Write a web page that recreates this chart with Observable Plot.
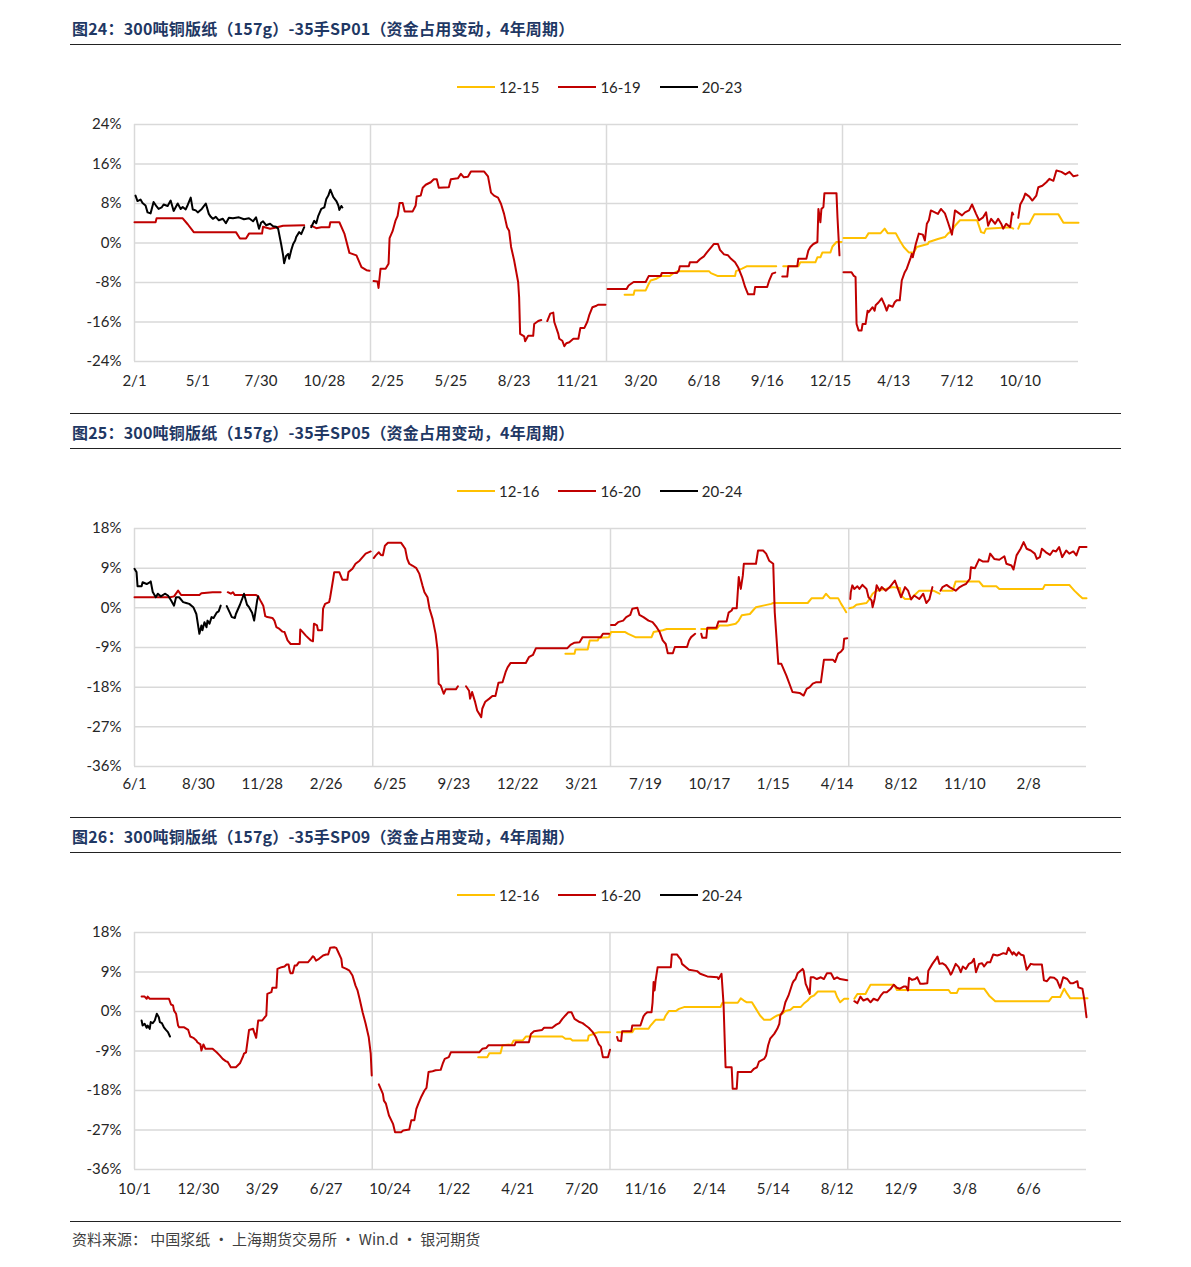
<!DOCTYPE html>
<html><head><meta charset="utf-8">
<script src="https://cdn.jsdelivr.net/npm/d3@7"></script>
<script src="https://cdn.jsdelivr.net/npm/@observablehq/plot@0.6"></script>
<style>
body{margin:0;background:#fff;overflow:hidden;}
#page{position:relative;width:1191px;height:1267px;font-family:"Noto Sans CJK SC","Noto Sans",sans-serif;}
.title{position:absolute;left:72px;font-weight:700;font-size:16px;letter-spacing:0.2px;color:#1f3864;line-height:20px;white-space:nowrap;}
.rule{position:absolute;left:70px;width:1051px;height:0;border-top:1.5px solid #222;}
.legend{position:absolute;left:457px;display:flex;align-items:center;font-family:Lato,"Noto Sans",sans-serif;font-size:15px;color:#262626;height:20px;}
.legend .sw{width:38px;height:2px;margin-right:4px;}
.legend .lab{margin-right:19px;}
.chart{position:absolute;left:0;}
.footer{position:absolute;left:72px;top:1229px;font-size:15px;color:#404040;line-height:20px;white-space:nowrap;}
</style></head>
<body><div id="page"></div>
<script>
// ---------- tick labels ----------
const labels1 = ["2/1","5/1","7/30","10/28","2/25","5/25","8/23","11/21","3/20","6/18","9/16","12/15","4/13","7/12","10/10"];
const labels2 = ["6/1","8/30","11/28","2/26","6/25","9/23","12/22","3/21","7/19","10/17","1/15","4/14","8/12","11/10","2/8"];
const labels3 = ["10/1","12/30","3/29","6/27","10/24","1/22","4/21","7/20","11/16","2/14","5/14","8/12","12/9","3/8","6/6"];
const yTicks1 = [-24,-16,-8,0,8,16,24];
const yTicks23 = [-36,-27,-18,-9,0,9,18];
const names1 = ["12-15","16-19","20-23"];
const names23 = ["12-16","16-20","20-24"];
// trading-day index of each year boundary, and days between labels
const bounds1 = [235,470,705];
const bounds2 = [235,469.5,704.5];
const bounds3 = [234.5,469,703.5];
const tickStep = 63;

// ---------- chart 1 (SP01) : [trading day, %] ; null = gap ----------
const c1Yellow = [
[488,-10.5],[497,-10.5],[498,-9.6],[509,-9.6],[512,-8.3],[514,-7.6],[519,-7.3],[524,-6.7],[533,-6.7],[536,-6.2],[541,-5.7],[572,-5.7],[574,-6.1],[581,-6.7],[598,-6.7],[599,-5.7],[605,-5.2],[610,-4.7],[639,-4.7],null,
[646,-4.7],[661,-4.7],[663,-3.9],[678,-3.9],[680,-2.9],[683,-2.9],[685,-1.9],[693,-1.9],[695,-0.7],[699,0.2],[704,0.2],null,
[706,1.0],[728,1.0],[731,2.0],[743,2.0],[747,2.9],[750,2.0],[758,2.0],[762,0.5],[766,-0.8],[771,-1.9],[776,-1.9],[779,-0.8],[790,-0.2],[791,0.2],[800,0.8],[807,1.2],[810,1.9],[814,2.5],[817,3.5],[822,4.6],[839,4.6],[843,2.2],[846,2.0],[848,2.9],[872,3.2],[875,2.9],null,
[880,2.9],[882,3.9],[891,3.9],[896,5.8],[920,5.8],[925,4.1],[940,4.1]
];
const c1Red = [
[0,4.2],[21,4.2],[22,5.0],[48,5.0],[53,3.8],[59,2.2],[101,2.2],[105,0.9],[111,0.9],[114,1.9],[127,1.9],[128,3.3],[135,2.9],[140,3.1],[148,3.5],[169,3.6],null,
[176,3.5],[181,3.0],[186,3.2],[194,3.2],[195,4.2],[204,4.2],[209,1.9],[214,-2.0],[221,-2.5],[226,-4.9],[231,-5.5],[234,-5.6],null,
[238,-7.7],[242,-7.8],[243,-9.1],[245,-5.2],[250,-5.2],[253,-4.2],[254,1.0],[257,2.4],[260,4.6],[262,5.5],[264,8.1],[267,8.1],[269,6.4],[277,6.4],[280,7.6],[281,9.4],[285,9.6],[287,11.2],[290,11.8],[295,12.3],[298,12.9],[301,12.9],[303,11.2],[313,11.3],[315,12.9],[322,13.1],[325,14.0],[328,13.3],[332,13.4],[335,14.5],[348,14.5],[352,13.5],[355,10.2],[358,9.6],[362,9.2],[365,7.9],[368,5.9],[371,3.2],[373,2.5],[375,-0.8],[378,-3.5],[382,-7.9],[383,-11.0],[384,-18.4],[388,-18.9],[389,-19.9],[392,-18.8],[397,-18.8],[398,-16.4],[402,-15.8],[405,-15.6],null,
[411,-15.8],[414,-14.3],[417,-14.1],[418,-16.0],[422,-18.4],[423,-19.4],[426,-19.8],[428,-20.9],[430,-20.3],[433,-20.1],[437,-19.4],[442,-19.4],[444,-17.2],[448,-17.2],[451,-15.9],[453,-14.5],[456,-13.0],[460,-12.7],[462,-12.5],[469,-12.5],null,
[471,-9.3],[490,-9.3],[492,-8.6],[497,-7.9],[509,-7.9],[512,-6.7],[524,-6.7],[525,-6.1],[540,-6.1],[542,-5.6],[543,-4.7],[552,-4.7],[553,-3.9],[560,-3.9],[563,-3.3],[567,-2.7],[570,-1.9],[575,-0.7],[577,-0.2],[581,-0.2],[583,-1.4],[587,-2.3],[591,-2.5],[594,-3.2],[598,-3.9],[601,-4.9],[605,-6.9],[608,-8.9],[611,-10.4],[617,-10.4],[618,-8.9],[630,-8.9],[632,-7.6],[635,-6.2],[638,-6.0],null,
[645,-6.8],[650,-6.8],[651,-4.7],[660,-4.7],[661,-3.2],[669,-3.2],[671,-1.5],[673,-0.8],[676,-0.2],[680,0.2],[681,6.9],[683,4.2],[684,6.9],[686,7.3],[687,10.1],[699,10.1],[700,5.2],[702,-2.5],null,
[706,-5.9],[714,-5.9],[716,-6.6],[718,-6.9],[719,-16.4],[721,-17.7],[724,-17.7],[725,-16.4],[728,-16.4],[730,-13.7],[731,-14.0],[735,-13.0],[737,-13.7],[738,-12.6],[741,-12.0],[744,-11.2],[747,-12.6],[749,-13.7],[751,-12.6],[755,-12.9],[757,-12.0],[759,-11.6],[762,-11.6],[764,-7.6],[767,-5.9],[769,-5.2],[773,-2.9],[774,-2.2],[775,-2.9],[778,-0.2],[781,1.9],[785,1.7],[787,0.5],[789,3.9],[791,4.6],[793,6.6],[797,6.2],[800,5.9],[803,6.9],[807,6.0],[810,4.2],[814,1.7],[817,6.6],[824,5.6],[827,6.2],[831,6.6],[834,7.8],[838,5.9],[841,4.6],[845,5.2],[848,6.2],[850,3.5],[853,4.9],[857,3.9],[860,4.9],[863,3.9],[865,2.9],[868,3.9],[872,3.2],[874,6.2],[875,5.8],null,
[880,5.1],[882,7.8],[885,8.9],[887,10.0],[891,9.4],[894,8.6],[898,9.6],[900,11.3],[904,11.6],[908,12.3],[911,13.0],[915,12.6],[918,14.7],[923,14.4],[927,13.9],[931,14.4],[935,13.5],[939,13.7]
];
const c1Black = [
[1,9.6],[3,8.5],[6,8.8],[8,8.1],[11,7.6],[13,6.2],[16,6.0],[19,8.3],[22,7.4],[24,6.9],[27,7.2],[29,7.8],[33,7.5],[36,8.6],[39,6.5],[43,8.0],[46,6.9],[48,7.3],[51,6.8],[53,7.7],[56,9.2],[58,6.8],[61,6.6],[63,6.2],[67,6.9],[71,8.0],[74,5.9],[76,5.3],[78,4.9],[81,5.3],[84,4.6],[88,4.9],[91,4.0],[94,5.1],[98,5.0],[104,5.2],[109,4.8],[114,5.0],[118,4.4],[121,5.2],[124,2.9],[126,4.1],[128,4.4],[131,3.6],[135,3.9],[138,3.4],[141,3.3],[143,2.9],[146,-0.2],[148,-2.5],[149,-4.1],[151,-2.6],[153,-2.2],[154,-3.2],[156,-1.5],[158,-0.2],[160,0.5],[161,1.2],[164,2.2],[166,1.8],[169,3.2],null,
[176,3.2],[179,4.5],[181,4.0],[183,5.5],[186,6.9],[189,7.2],[191,8.9],[193,9.6],[195,10.8],[198,9.3],[201,8.5],[203,7.6],[204,6.7],[206,7.5],[207,7.2]
];

// ---------- chart 2 (SP05) ----------
const c2Yellow = [
[425,-10.4],[434,-10.4],[435,-9.45],[447,-9.45],[449,-7.4],[457,-7.4],[458,-6.8],[468,-6.65],
[470,-5.5],[484,-5.5],[487,-5.9],[494,-6.65],[510,-6.65],[512,-5.5],[521,-5.1],[525,-4.8],[553,-4.8],null,
[559,-4.8],[574,-4.8],[577,-4.0],[585,-4.0],[593,-3.6],[596,-2.9],[599,-1.7],[607,-1.4],[610,-0.6],[613,0.15],[620,0.5],[628,0.9],[630,1.1],[664,1.1],[668,2.2],[679,2.2],[682,3.2],[686,2.2],[694,2.2],[697,0.9],[700,-0.2],[702,-1.0],null,
[705,-0.1],[709,0.15],[712,0.7],[722,1.1],[725,2.0],[728,3.2],[732,3.9],[741,4.3],[748,4.7],[755,4.5],[756,2.8],[760,2.0],[766,2.0],[769,2.8],[774,3.9],[788,3.9],[794,3.2],null,
[797,3.9],[807,3.9],[810,6.0],[833,6.0],[837,4.9],[850,4.9],[853,4.3],[896,4.3],[898,5.2],[922,5.2],[927,3.9],[932,2.8],[935,2.2],[939,2.2]
];
const c2Red = [
[0,2.4],[35,2.4],[39,2.6],[43,3.9],[46,2.9],[64,2.9],[66,3.3],[77,3.55],[85,3.55],null,
[92,3.55],[95,3.2],[97,3.55],[99,2.9],[120,2.9],[122,2.6],[125,1.3],[127,0.5],[129,-1.9],[131,-2.1],[136,-2.3],[138,-2.9],[140,-4.4],[143,-4.8],[146,-5.4],[148,-5.5],[151,-7.4],[154,-8.2],[163,-8.2],[163.5,-4.9],[166,-5.5],[169,-6.3],[174,-7.4],[176,-7.6],[177,-3.6],[180,-4.0],[181,-5.1],[185,-5.1],[186,-0.2],[188,0.9],[192,1.3],[193,2.4],[196,6.6],[197,8.1],[202,8.1],[205,6.4],[210,6.4],[211,8.1],[215,8.85],[218,10.0],[222,10.7],[225,11.5],[228,12.3],[233,12.8],null,
[236,11.3],[238,11.9],[241,12.6],[243,12.0],[245,11.9],[247,14.1],[250,14.75],[263,14.75],[267,13.4],[269,11.1],[271,10.0],[274,9.6],[278,9.0],[281,7.7],[284,5.1],[286,3.55],[289,2.4],[291,-0.2],[294,-2.5],[297,-5.9],[299,-9.7],[300,-17.2],[302,-17.6],[305,-19.5],[307,-18.5],[317,-18.5],[319,-17.8],null,
[327,-17.8],[330,-18.8],[331,-20.6],[333,-19.1],[336,-21.4],[338,-23.3],[342,-24.8],[343,-22.9],[346,-21.3],[350,-20.6],[353,-20.0],[356,-20.0],[359,-17.0],[363,-16.9],[366,-14.6],[368,-13.5],[371,-12.5],[386,-12.5],[389,-11.2],[393,-10.7],[396,-9.15],[427,-9.15],[430,-8.4],[434,-7.9],[439,-7.8],[440,-7.4],[442,-6.65],[460,-6.65],[462,-5.9],[468,-5.9],null,
[470,-3.9],[474,-3.9],[477,-3.25],[482,-2.9],[485,-2.1],[489,-1.6],[491,-0.2],[496,0.0],[498,-1.6],[502,-2.1],[507,-2.9],[511,-3.25],[515,-4.4],[518,-5.5],[521,-7.4],[524,-8.2],[526,-10.3],[531,-10.3],[533,-8.9],[545,-8.9],[547,-7.4],[549,-6.65],[553,-5.9],null,
[559,-5.9],[560,-6.8],[564,-6.8],[565,-4.5],[574,-4.5],[576,-3.1],[584,-3.1],[586,-1.1],[589,-0.6],[590,-0.1],[594,-0.1],[596,7.0],[598,4.3],[600,7.3],[601,10.0],[613,10.0],[615,13.0],[620,13.0],[623,12.3],[626,10.7],[630,10.0],[631.5,-1.0],[635,-12.7],[638,-12.7],[643,-15.4],[649,-19.1],[656,-19.3],[660,-19.9],[663,-18.4],[666,-18.0],[669,-17.2],[672,-16.9],[677,-16.9],[680,-11.8],[689,-11.8],[691,-12.3],[694,-10.4],[697,-9.9],[699,-9.3],[700,-7.0],[703,-6.9],null,
[706,2.0],[706.5,3.55],[708,5.1],[710,4.3],[713,4.9],[715,4.3],[718,5.2],[722,4.3],[724,2.4],[727,1.7],[728,0.15],[730,2.0],[732,5.1],[735,3.9],[737,4.7],[741,3.9],[745,4.7],[750,6.2],[753,4.3],[756,2.4],[760,4.7],[763,3.9],[766,1.9],[769,2.8],[774,2.0],[778,3.2],[781,1.1],[784,1.9],[787,4.7],null,
[795,3.9],[797,4.7],[801,5.2],[804,4.7],[807,4.3],[810,3.9],[814,4.7],[817,5.1],[820,5.4],[824,6.6],[825,9.2],[829,9.0],[833,11.0],[837,10.5],[842,10.5],[844,12.3],[848,11.1],[853,10.9],[858,11.7],[860,10.0],[865,9.6],[867,8.7],[870,11.9],[874,13.4],[877,14.9],[880,13.4],[884,13.0],[888,12.3],[890,11.1],[893,11.5],[895,13.4],[899,12.6],[903,12.0],[906,13.0],[909,12.8],[912,13.8],[915,11.5],[919,13.0],[922,12.3],[926,12.8],[929,11.9],[932,13.8],[939,13.8]
];
const c2Black = [
[0,8.85],[2,8.1],[3,4.9],[7,4.9],[8,5.8],[12,5.4],[15,5.8],[16,6.0],[18,3.6],[21,2.4],[23,3.2],[26,2.6],[30,3.2],[33,2.8],[36,1.7],[39,0.5],[41,2.4],[44,2.4],[48,1.3],[51,1.1],[54,0.9],[58,0.15],[61,-1.4],[64,-5.9],[66,-4.0],[67,-5.1],[69,-3.25],[71,-4.4],[72,-2.9],[74,-3.6],[76,-2.1],[78,-2.3],[81,-1.1],[83,-0.8],[85,0.5],null,
[91,0.4],[94,-1.1],[96,-2.1],[99,-2.3],[100,-1.4],[104,0.7],[106,1.9],[108,3.2],[111,0.7],[113,0.15],[116,-1.1],[118,-2.9],[121,1.7],[122,2.6]
];

// ---------- chart 3 (SP09) ----------
const c3Yellow = [
[339,-10.4],[348,-10.4],[350,-9.5],[361,-9.5],[363,-7.7],[372,-7.5],[374,-6.6],[383,-6.6],[386,-5.7],[422,-5.7],[425,-6.2],[430,-6.2],[432,-6.6],[447,-6.6],[448,-5.5],[452,-5.2],[455,-4.9],[458,-4.7],[469,-4.7],null,
[476,-4.7],[491,-4.7],[493,-3.95],[507,-3.95],[509,-3.2],[512,-2.4],[514,-1.9],[522,-1.9],[524,-0.9],[527,0.1],[534,0.1],[537,0.6],[542,1.0],[578,1.0],[580,2.0],[595,2.0],[598,3.0],[601,2.5],[604,2.1],[609,2.1],[613,0.6],[617,-0.9],[621,-1.9],[627,-1.9],[631,-1.3],[634,-0.9],[639,-0.5],[642,0.1],[647,0.4],[650,1.0],[657,1.0],[660,1.75],[664,2.5],[667,3.3],[670,3.6],[674,4.55],[691,4.55],[693,3.3],[696,2.1],[700,2.9],[704,2.9],null,
[710,2.9],[713,4.0],[721,4.0],[723,4.9],[726,6.1],[749,6.1],[752,4.9],[803,4.9],[805,4.2],[811,4.2],[813,5.2],[838,5.2],[843,3.6],[849,2.35],[902,2.35],[905,3.3],[913,3.3],[917,5.2],[920,4.0],[923,3.0],[940,3.0]
];
const c3Red = [
[7,3.4],[10,3.4],[12,2.9],[13,3.4],[15,2.9],[34,2.9],[36,1.6],[38,1.4],[39,0.2],[41,-0.5],[43,-3.2],[44,-3.6],[49,-3.6],[53,-4.2],[55,-5.7],[58,-6.0],[61,-6.6],[62,-7.0],[65,-7.5],[66,-8.9],[68,-7.5],[70,-8.5],[77,-8.5],[81,-9.3],[84,-10.0],[87,-10.8],[90,-11.3],[92,-11.5],[95,-12.7],[100,-12.7],[104,-11.8],[105,-11.3],[107,-10.25],[108,-9.6],[110,-9.3],[113,-4.2],[117,-3.95],[118,-4.7],[120,-6.0],[122,-2.05],[126,-2.05],[128,-1.45],[130,-0.9],[131,4.0],[135,4.4],[136,5.4],[140,5.4],[141,9.7],[145,10.1],[148,10.25],[150,10.7],[152,10.7],[153,9.3],[154,8.7],[156,8.7],[158,10.5],[160,10.5],[162,11.2],[171,11.2],[174,12.0],[176,12.6],[177,12.4],[179,11.6],[182,12.0],[186,12.75],[189,13.0],[191,13.0],[193,14.5],[197,14.65],[199,14.5],[201,13.5],[204,12.0],[205,10.1],[209,9.7],[212,9.3],[215,8.2],[218,5.9],[220,4.8],[222,2.9],[225,-0.15],[228,-2.8],[231,-5.8],[233,-9.6],[234,-14.6],null,
[241,-16.6],[245,-18.75],[246,-20.3],[248,-21.0],[251,-23.7],[255,-25.6],[257,-27.5],[263,-27.5],[265,-27.1],[271,-26.9],[273,-24.8],[276,-24.8],[278,-22.2],[280,-21.0],[283,-19.35],[286,-18.0],[288,-17.4],[290,-13.8],[294,-13.6],[297,-13.4],[302,-13.3],[304,-11.9],[306,-10.8],[310,-10.4],[312,-9.3],[340,-9.3],[343,-8.5],[347,-8.3],[349,-7.7],[375,-7.7],[376,-7.0],[389,-7.0],[391,-5.1],[394,-4.5],[402,-4.2],[404,-3.7],[412,-3.7],[416,-3.0],[419,-2.65],[422,-1.7],[425,-0.9],[428,-0.15],[431,-0.15],[434,-1.7],[439,-2.4],[442,-2.65],[445,-3.2],[448,-3.7],[452,-4.7],[455,-5.8],[458,-7.5],[460,-8.0],[462,-10.4],[467,-10.4],[469,-8.7],null,
[476,-5.8],[477,-6.6],[480,-6.75],[481,-4.5],[490,-4.5],[491,-3.2],[499,-3.2],[502,-1.1],[504,-0.5],[506,-0.15],[510,-0.15],[511,2.1],[512,6.7],[513,4.8],[514,7.1],[516,10.1],[529,10.1],[530,13.0],[535,13.0],[537,12.4],[539,11.8],[540,10.85],[544,10.1],[547,9.5],[555,9.2],[558,8.6],[565,8.0],[575,7.8],[576,7.4],[579,8.6],[581,1.75],[583,-12.7],[589,-12.7],[590,-17.6],[594,-17.6],[595,-13.8],[608,-13.8],[611,-13.05],[614,-12.7],[616,-11.4],[621,-10.8],[623,-10.0],[625,-7.7],[627,-6.2],[631,-5.1],[634,-3.95],[636,-2.8],[637,-0.9],[640,0.2],[642,2.1],[645,3.6],[649,6.45],[650,6.9],[652,7.4],[654,8.7],[657,9.3],[659,9.7],[660,9.3],[662,6.3],[664,5.2],[666,4.0],[667,7.8],[670,7.8],[673,7.4],[677,7.8],[680,7.4],[683,8.7],[687,8.7],[690,7.4],[693,7.8],[696,7.4],[703,7.1],null,
[710,2.35],[713,1.9],[716,3.4],[719,2.5],[723,2.9],[726,2.1],[729,2.9],[733,2.5],[736,3.6],[739,4.4],[742,4.4],[746,5.2],[749,6.1],[752,5.4],[755,5.2],[759,5.7],[761,5.7],[763,4.8],[764,7.7],[767,7.2],[770,7.4],[772,7.8],[775,6.3],[778,6.3],[782,6.45],[783,9.3],[787,10.85],[790,11.8],[792,12.5],[794,10.85],[797,11.0],[800,10.5],[803,9.5],[805,8.4],[806,8.7],[810,10.85],[813,10.1],[815,8.95],[817,10.25],[820,9.7],[823,10.85],[826,11.2],[828,12.0],[830,8.95],[833,10.85],[836,11.0],[838,10.25],[841,11.2],[844,11.2],[847,13.0],[851,12.75],[854,13.0],[857,13.3],[860,13.1],[862,14.5],[866,13.0],[867,13.5],[870,12.75],[872,13.5],[874,13.0],[877,12.75],[880,9.5],[884,10.85],[887,10.7],[895,10.7],[897,7.1],[900,6.9],[903,7.8],[907,7.7],[910,7.1],[913,5.4],[916,7.8],[920,7.4],[923,6.45],[926,6.45],[930,6.9],[931,5.5],[935,5.2],[937,2.5],[939,-1.3]
];
const c3Black = [
[7,-2.05],[8,-3.2],[10,-2.8],[12,-3.7],[13,-3.2],[15,-3.95],[16,-2.4],[18,-2.65],[20,-2.05],[22,-0.5],[24,-1.3],[25,-2.4],[27,-2.65],[29,-3.6],[31,-4.2],[33,-4.7],[35,-5.7]
];

const COLORS = ["#FFC000","#C00000","#000000"];

const page = document.getElementById("page");
function add(html){ page.insertAdjacentHTML("beforeend", html); }

function legend(top, names){
  add(`<div class="legend" style="top:${top}px">` + names.map((n,i)=>
    `<span class="sw" style="background:${COLORS[i]}"></span><span class="lab">${n}</span>`).join("") + `</div>`);
}

function toRows(arr){ return arr.map(p => p ? {x:p[0], y:p[1]} : {x:NaN, y:NaN}); }

function chart(cfg){
  const xTicks = cfg.labels.map((_, i) => i * tickStep);
  const labelMap = new Map(xTicks.map((t, i) => [t, cfg.labels[i]]));
  const svg = Plot.plot({
    width: 1191,
    height: cfg.height,
    marginLeft: 134,
    marginRight: cfg.marginRight,
    marginTop: 20,
    marginBottom: 43,
    style: {fontFamily: "Lato, 'Noto Sans', sans-serif", fontSize: "15px", color: "#262626", background: "transparent", overflow: "visible"},
    x: {domain: cfg.xDomain, label: null},
    y: {domain: [cfg.yTicks[0], cfg.yTicks[cfg.yTicks.length-1]], label: null},
    marks: [
      Plot.ruleY(cfg.yTicks, {stroke: "#d9d9d9", strokeWidth: 1.5}),
      Plot.ruleX([0, ...cfg.bounds], {stroke: "#d9d9d9", strokeWidth: 1.5}),
      ...cfg.series.map((s, i) => Plot.line(toRows(s), {x: "x", y: "y", stroke: COLORS[i], strokeWidth: 2, strokeLinejoin: "round"})),
      Plot.axisY({ticks: cfg.yTicks, tickSize: 0, tickPadding: 13, tickFormat: d => d + "%", fontSize: 15, label: null}),
      Plot.axisX({ticks: xTicks, tickSize: 0, tickPadding: cfg.xPad, tickFormat: d => labelMap.get(d), fontSize: 15, label: null})
    ]
  });
  svg.classList.add("chart");
  svg.style.top = cfg.top + "px";
  svg.style.position = "absolute";
  svg.style.left = "0px";
  page.appendChild(svg);
}

// ---------- figure 24 ----------
add(`<div class="title" style="top:18px">图24：300吨铜版纸（157g）-35手SP01（资金占用变动，4年周期）</div>`);
add(`<div class="rule" style="top:44px"></div>`);
legend(77, names1);
chart({top:104, height:300, marginRight:113, xDomain:[0,940], bounds:bounds1, yTicks:yTicks1, labels:labels1, xPad:14, series:[c1Yellow,c1Red,c1Black]});

// ---------- figure 25 ----------
add(`<div class="rule" style="top:413px"></div>`);
add(`<div class="title" style="top:422px">图25：300吨铜版纸（157g）-35手SP05（资金占用变动，4年周期）</div>`);
add(`<div class="rule" style="top:448px"></div>`);
legend(481, names23);
chart({top:508, height:301, marginRight:105, xDomain:[0,939], bounds:bounds2, yTicks:yTicks23, labels:labels2, xPad:12, series:[c2Yellow,c2Red,c2Black]});

// ---------- figure 26 ----------
add(`<div class="rule" style="top:817px"></div>`);
add(`<div class="title" style="top:826px">图26：300吨铜版纸（157g）-35手SP09（资金占用变动，4年周期）</div>`);
add(`<div class="rule" style="top:852px"></div>`);
legend(885, names23);
chart({top:912, height:300, marginRight:105, xDomain:[0,939], bounds:bounds3, yTicks:yTicks23, labels:labels3, xPad:14, series:[c3Yellow,c3Red,c3Black]});

// ---------- footer ----------
add(`<div class="rule" style="top:1221px"></div>`);
add(`<div class="footer">资料来源：&nbsp;中国浆纸 · 上海期货交易所 · Win.d · 银河期货</div>`);
</script>
</body></html>
